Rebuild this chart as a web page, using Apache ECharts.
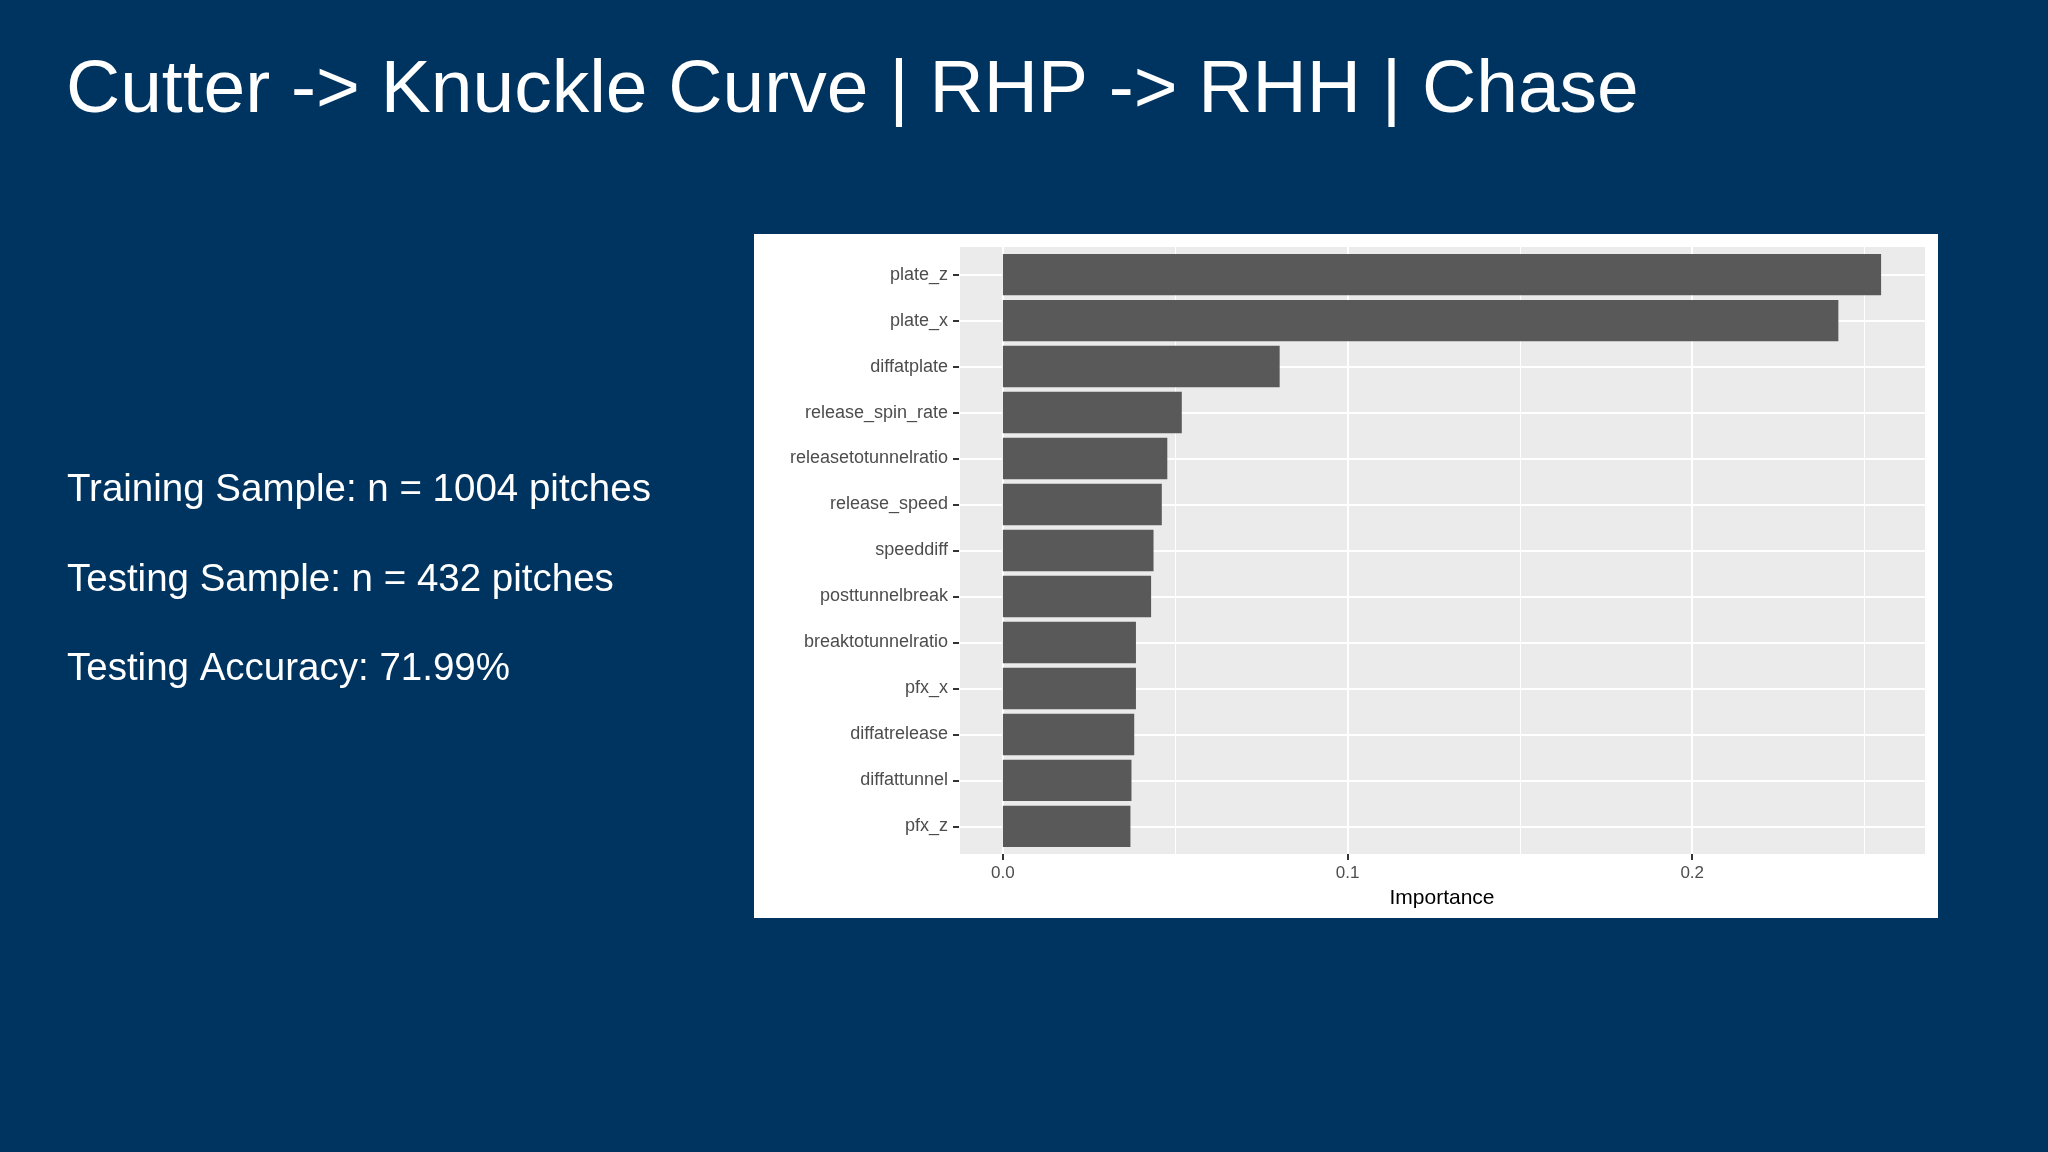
<!DOCTYPE html>
<html>
<head>
<meta charset="utf-8">
<title>Cutter -> Knuckle Curve | RHP -> RHH | Chase</title>
<script src="https://cdn.jsdelivr.net/npm/echarts@6/dist/echarts.min.js"></script>
<style>
    html, body { margin: 0; padding: 0; background: #003460; }
    #chart { width: 2048px; height: 1152px; }
</style>
</head>
<body>
<div id="chart"></div>
<script>
// feature importance, top of the plot first
const features = ['plate_z', 'plate_x', 'diffatplate', 'release_spin_rate', 'releasetotunnelratio',
    'release_speed', 'speeddiff', 'posttunnelbreak', 'breaktotunnelratio', 'pfx_x',
    'diffatrelease', 'diffattunnel', 'pfx_z'];
const importance = [0.2548, 0.2424, 0.0803, 0.0519, 0.0477, 0.0461, 0.0437, 0.0430,
    0.0386, 0.0386, 0.0381, 0.0373, 0.0370];
const xTicks = [0, 0.1, 0.2];
const pageTitle = 'Cutter -> Knuckle Curve | RHP -> RHH | Chase';
const infoLines = ['Training Sample: n = 1004 pitches', 'Testing Sample: n = 432 pitches', 'Testing Accuracy: 71.99%'];

const font = 'Liberation Sans, Arial, Helvetica, sans-serif';
const W = 2048, H = 1152;

// ggplot-like panel
const panel = { x0: 959, x1: 1925, y0: 247, y1: 854 };
const band = (panel.y1 - panel.y0) / (features.length - 1 + 1.2);
const pad = 0.05 * Math.max.apply(null, importance);
const xMin = -pad, xMax = Math.max.apply(null, importance) + pad;

const myChart = echarts.init(document.getElementById('chart'));

const option = {
    backgroundColor: '#003460',
    animation: false,
    graphic: [
        { type: 'rect', z: -10, shape: { x: 754, y: 234, width: 1184, height: 684 }, style: { fill: '#ffffff' } },
        { type: 'text', style: { text: pageTitle, x: 66, y: 91, verticalAlign: 'middle', fill: '#ffffff', fontSize: 75, fontFamily: font } },
        { type: 'text', style: { text: infoLines[0], x: 67, y: 490, verticalAlign: 'middle', fill: '#ffffff', fontSize: 38.5, fontFamily: font } },
        { type: 'text', style: { text: infoLines[1], x: 67, y: 580, verticalAlign: 'middle', fill: '#ffffff', fontSize: 38.5, fontFamily: font } },
        { type: 'text', style: { text: infoLines[2], x: 67, y: 669, verticalAlign: 'middle', fill: '#ffffff', fontSize: 38.5, fontFamily: font } }
    ],
    grid: [
        {   // bars + category axis
            left: panel.x0, right: W - panel.x1,
            top: panel.y0 + 0.6 * band, bottom: H - panel.y1 + 0.6 * band,
            containLabel: false
        },
        {   // grey panel + value axis
            left: panel.x0, right: W - panel.x1,
            top: panel.y0, bottom: H - panel.y1,
            show: true, backgroundColor: '#EBEBEB', borderWidth: 0,
            containLabel: false
        }
    ],
    xAxis: [
        {
            gridIndex: 0, type: 'value', min: xMin, max: xMax, show: false
        },
        {   // minor grid lines
            gridIndex: 1, type: 'value', min: xMin, max: xMax, position: 'top',
            minInterval: 0.05, maxInterval: 0.05,
            axisLine: { show: false }, axisTick: { show: false }, axisLabel: { show: false },
            splitLine: { show: true, lineStyle: { color: '#ffffff', width: 1 } }
        },
        {   // major grid lines, ticks, labels
            gridIndex: 1, type: 'value', min: xMin, max: xMax, position: 'bottom',
            minInterval: 0.1, maxInterval: 0.1,
            name: 'Importance', nameLocation: 'middle', nameGap: 34,
            nameTextStyle: { color: '#000000', fontSize: 21, fontFamily: font },
            axisLine: { show: false, onZero: false },
            axisTick: { show: true, customValues: xTicks, length: 6, lineStyle: { color: '#333333', width: 2 } },
            axisLabel: {
                customValues: xTicks, margin: 11, color: '#4D4D4D', fontSize: 17, fontFamily: font,
                formatter: function (v) { return v.toFixed(1); }
            },
            splitLine: { show: true, lineStyle: { color: '#ffffff', width: 2 } }
        }
    ],
    yAxis: [
        {
            gridIndex: 0, type: 'category', data: features, inverse: true, boundaryGap: false,
            axisLine: { show: false, onZero: false },
            axisTick: { show: true, length: 6, lineStyle: { color: '#333333', width: 2 } },
            axisLabel: { interval: 0, margin: 11, color: '#4D4D4D', fontSize: 18, fontFamily: font },
            splitLine: { show: true, interval: 0, lineStyle: { color: '#ffffff', width: 2 } }
        },
        {
            gridIndex: 1, type: 'value', show: false
        }
    ],
    series: [
        {
            type: 'bar',
            xAxisIndex: 0, yAxisIndex: 0,
            data: importance,
            barWidth: band * 0.9,
            clip: false,
            itemStyle: { color: '#595959' },
            silent: true
        }
    ]
};

myChart.setOption(option);
window.onresize = function () {
    myChart.resize();
};
</script>
</body>
</html>
